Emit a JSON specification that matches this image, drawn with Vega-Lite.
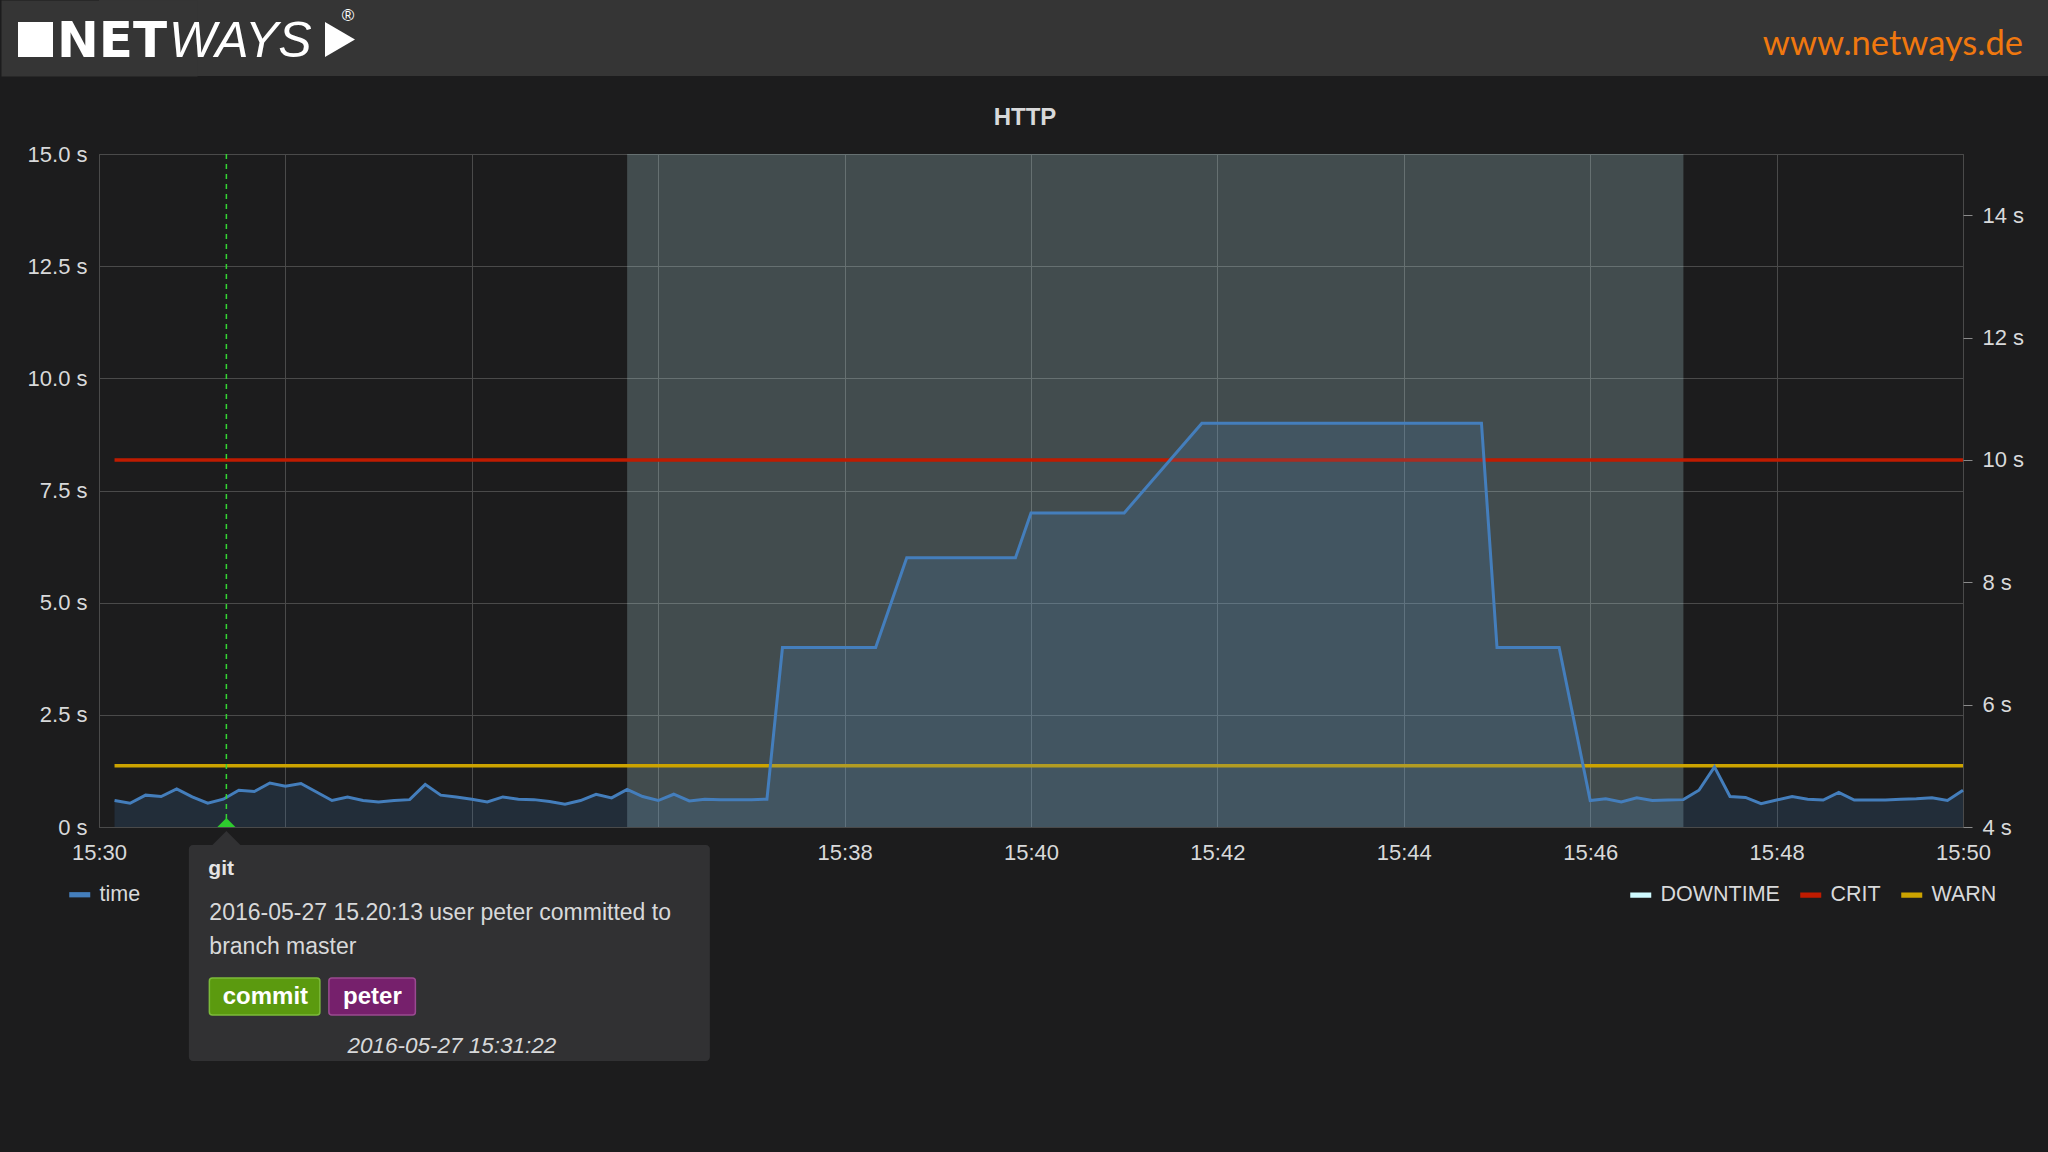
{
  "$schema": "https://vega.github.io/schema/vega-lite/v6.json",
  "background": "#1c1c1d",
  "padding": {"left": 0, "top": 0, "right": 0, "bottom": 91},
  "columns": 1,
  "align": "none",
  "spacing": 29,
  "config": {
    "font": "Liberation Sans",
    "view": {"stroke": "#4a4a4a"},
    "axis": {"labelFont": "Liberation Sans", "labelFontSize": 22, "labelColor": "#d8d9da", "domain": false, "ticks": false, "tickSize": 0, "gridColor": "#4a4a4a", "gridWidth": 1, "gridOpacity": 1, "labelOverlap": false}
  },
  "concat": [
    {
      "width": 1950,
      "height": 76,
      "view": {"fill": "#353535", "stroke": null},
      "data": {"values": [{"brand": "NET", "brand2": "WAYS", "url": "www.netways.de"}]},
      "encoding": {
        "x": {"datum": 0, "type": "quantitative", "scale": {"domain": [0, 1]}, "axis": null},
        "y": {"datum": 0.5, "type": "quantitative", "scale": {"domain": [0, 1]},
          "axis": {"orient": "left", "labels": false, "ticks": false, "grid": false, "domain": true, "domainWidth": 196, "domainColor": "#353535", "domainCap": "butt", "title": null}}
      },
      "layer": [
        {"mark": {"type": "point", "shape": "square", "filled": true, "color": "#ffffff", "opacity": 1, "size": 1225, "xOffset": -63.5, "yOffset": 1.5}},
        {"mark": {"type": "text", "font": "DejaVu Sans", "fontWeight": "bold", "fontSize": 50, "color": "#ffffff", "align": "left", "baseline": "alphabetic", "dx": -42, "dy": 19}, "encoding": {"text": {"field": "brand"}}},
        {"mark": {"type": "text", "font": "Liberation Sans", "fontStyle": "italic", "fontSize": 50, "color": "#ffffff", "align": "left", "baseline": "alphabetic", "dx": 70, "dy": 19}, "encoding": {"text": {"field": "brand2"}}},
        {"mark": {"type": "point", "shape": "M-0.857,-1L0.857,0L-0.857,1Z", "filled": true, "color": "#ffffff", "opacity": 1, "size": 1225, "xOffset": 241, "yOffset": 1.5}},
        {"mark": {"type": "text", "font": "Liberation Sans", "fontSize": 17, "color": "#ffffff", "align": "center", "baseline": "middle", "text": "®", "dx": 249, "dy": -22}},
        {"mark": {"type": "text", "font": "Lato", "fontSize": 34.5, "color": "#f0780f", "align": "right", "baseline": "alphabetic", "dx": -26, "dy": 17}, "encoding": {"x": {"datum": 1, "type": "quantitative"}, "text": {"field": "url"}}}
      ]
    },
    {
      "width": 1864,
      "height": 673,
      "title": {"text": "HTTP", "fontSize": 24, "fontWeight": "bold", "color": "#d8d9da", "anchor": "middle", "frame": "group", "dx": -6, "offset": 13},
      "resolve": {"scale": {"y": "independent", "color": "independent"}},
      "layer": [
        {
          "layer": [
            {
              "data": {"values": [{"start": "2016-05-27T15:35:40", "end": "2016-05-27T15:47:00", "s": "DOWNTIME"}]},
              "mark": {"type": "rect", "fillOpacity": 0.22},
              "encoding": {
                "x": {"field": "start", "type": "temporal", "title": null,
                  "scale": {"domain": [{"year": 2016, "month": 5, "date": 27, "hours": 15, "minutes": 30}, {"year": 2016, "month": 5, "date": 27, "hours": 15, "minutes": 50}]},
                  "axis": {"format": "%H:%M", "values": [
                    {"year": 2016, "month": 5, "date": 27, "hours": 15, "minutes": 30},
                    {"year": 2016, "month": 5, "date": 27, "hours": 15, "minutes": 32},
                    {"year": 2016, "month": 5, "date": 27, "hours": 15, "minutes": 34},
                    {"year": 2016, "month": 5, "date": 27, "hours": 15, "minutes": 36},
                    {"year": 2016, "month": 5, "date": 27, "hours": 15, "minutes": 38},
                    {"year": 2016, "month": 5, "date": 27, "hours": 15, "minutes": 40},
                    {"year": 2016, "month": 5, "date": 27, "hours": 15, "minutes": 42},
                    {"year": 2016, "month": 5, "date": 27, "hours": 15, "minutes": 44},
                    {"year": 2016, "month": 5, "date": 27, "hours": 15, "minutes": 46},
                    {"year": 2016, "month": 5, "date": 27, "hours": 15, "minutes": 48},
                    {"year": 2016, "month": 5, "date": 27, "hours": 15, "minutes": 50}
                  ], "grid": true, "labelPadding": 15, "labelFlush": false}},
                "x2": {"field": "end"},
                "color": {"field": "s", "type": "nominal", "scale": {"domain": ["DOWNTIME", "CRIT", "WARN"], "range": ["#CFFAFF", "#BF1B00", "#CCA300"]},
                  "legend": {"title": null, "orient": "none", "legendX": 1531, "legendY": 730, "direction": "horizontal", "symbolType": "M-1,-0.25H1V0.25H-1Z", "symbolSize": 441, "symbolStrokeWidth": 0, "symbolOpacity": 1, "labelFontSize": 21.5, "labelColor": "#d8d9da", "labelFont": "Liberation Sans", "labelOffset": 9, "columnPadding": 20, "padding": 0}}
              }
            },
            {
              "data": {"values": [
                {"t": "2016-05-27T15:30:10", "v": 10, "s": "CRIT"},
                {"t": "2016-05-27T15:50:00", "v": 10, "s": "CRIT"},
                {"t": "2016-05-27T15:30:10", "v": 5, "s": "WARN"},
                {"t": "2016-05-27T15:50:00", "v": 5, "s": "WARN"}
              ]},
              "mark": {"type": "line", "strokeWidth": 3.5},
              "encoding": {
                "x": {"field": "t", "type": "temporal", "title": null},
                "y": {"field": "v", "type": "quantitative", "title": null, "scale": {"domain": [4, 15], "nice": false, "zero": false},
                  "axis": {"orient": "right", "values": [4, 6, 8, 10, 12, 14], "labelExpr": "datum.value + ' s'", "ticks": true, "tickSize": 9, "tickColor": "#8a8a8a", "labelPadding": 10, "grid": false}},
                "color": {"field": "s", "type": "nominal"}
              }
            }
          ]
        },
        {
          "layer": [
            {
              "data": {"name": "series"},
              "mark": {"type": "area", "fillOpacity": 0.18, "interpolate": "linear"},
              "encoding": {
                "x": {"field": "t", "type": "temporal", "title": null},
                "y": {"field": "v", "type": "quantitative", "title": null, "scale": {"domain": [0, 15], "nice": false},
                  "axis": {"orient": "left", "values": [0, 2.5, 5, 7.5, 10, 12.5, 15], "labelExpr": "datum.value == 0 ? '0 s' : format(datum.value, '.1f') + ' s'", "grid": true, "labelPadding": 12, "minExtent": 98, "maxExtent": 98}},
                "color": {"field": "s", "type": "nominal", "scale": {"domain": ["time"], "range": ["#447EBC"]},
                  "legend": {"title": null, "orient": "none", "legendX": -30, "legendY": 730, "direction": "horizontal", "symbolType": "M-1,-0.25H1V0.25H-1Z", "symbolSize": 441, "symbolStrokeWidth": 0, "symbolOpacity": 1, "labelFontSize": 21.5, "labelColor": "#d8d9da", "labelFont": "Liberation Sans", "labelOffset": 9, "padding": 0}}
              }
            },
            {
              "data": {"name": "series"},
              "mark": {"type": "line", "strokeWidth": 3, "interpolate": "linear"},
              "encoding": {
                "x": {"field": "t", "type": "temporal"},
                "y": {"field": "v", "type": "quantitative"},
                "color": {"field": "s", "type": "nominal"}
              }
            },
            {
              "data": {"name": "annotations"},
              "mark": {"type": "rule", "color": "#33d633", "strokeWidth": 1.5, "strokeDash": [5, 5]},
              "encoding": {"x": {"field": "t", "type": "temporal"}}
            },
            {
              "data": {"name": "annotations"},
              "mark": {"type": "point", "shape": "M-1,0.5L0,-0.5L1,0.5Z", "filled": true, "color": "#2ecc2e", "opacity": 1, "size": 324, "yOffset": -4.5},
              "encoding": {"x": {"field": "t", "type": "temporal"}, "y": {"datum": 0}}
            },
            {
              "data": {"name": "annotations"},
              "mark": {"type": "point", "shape": "M-1,0.5L0,-0.5L1,0.5Z", "filled": true, "color": "#313133", "opacity": 1, "size": 784, "yOffset": 11, "clip": false},
              "encoding": {"x": {"field": "t", "type": "temporal"}, "y": {"datum": 0}}
            },
            {
              "data": {"name": "annotations"},
              "mark": {"type": "rect", "color": "#313133", "opacity": 1, "cornerRadius": 4, "xOffset": -37.5, "x2Offset": 483.5, "yOffset": 18, "y2Offset": 234, "clip": false},
              "encoding": {"x": {"field": "t", "type": "temporal"}, "x2": {"field": "t"}, "y": {"datum": 0}, "y2": {"datum": 0}}
            },
            {
              "data": {"name": "annotations"},
              "mark": {"type": "text", "font": "Liberation Sans", "fontWeight": "bold", "fontSize": 21, "color": "#e4e4e4", "align": "left", "baseline": "alphabetic", "dx": -18, "dy": 48, "clip": false},
              "encoding": {"x": {"field": "t", "type": "temporal"}, "y": {"datum": 0}, "text": {"field": "source"}}
            },
            {
              "data": {"name": "annotations"},
              "mark": {"type": "text", "font": "Liberation Sans", "fontSize": 23, "color": "#d8d9da", "align": "left", "baseline": "alphabetic", "dx": -17, "dy": 93, "lineBreak": "\n", "lineHeight": 33.5, "clip": false},
              "encoding": {"x": {"field": "t", "type": "temporal"}, "y": {"datum": 0}, "text": {"field": "text"}}
            },
            {
              "data": {"name": "annotations"},
              "mark": {"type": "rect", "color": "#5b9a0f", "stroke": "#7cbb3a", "strokeWidth": 1.5, "opacity": 1, "cornerRadius": 3, "xOffset": -17, "x2Offset": 93.5, "yOffset": 151, "y2Offset": 188, "clip": false},
              "encoding": {"x": {"field": "t", "type": "temporal"}, "x2": {"field": "t"}, "y": {"datum": 0}, "y2": {"datum": 0}}
            },
            {
              "data": {"name": "annotations"},
              "mark": {"type": "rect", "color": "#76206c", "stroke": "#9a4a90", "strokeWidth": 1.5, "opacity": 1, "cornerRadius": 3, "xOffset": 102.5, "x2Offset": 189, "yOffset": 151, "y2Offset": 188, "clip": false},
              "encoding": {"x": {"field": "t", "type": "temporal"}, "x2": {"field": "t"}, "y": {"datum": 0}, "y2": {"datum": 0}}
            },
            {
              "data": {"name": "annotations"},
              "mark": {"type": "text", "font": "Liberation Sans", "fontWeight": "bold", "fontSize": 24, "color": "#ffffff", "align": "center", "baseline": "alphabetic", "dx": 39, "dy": 177, "clip": false},
              "encoding": {"x": {"field": "t", "type": "temporal"}, "y": {"datum": 0}, "text": {"field": "tag1"}}
            },
            {
              "data": {"name": "annotations"},
              "mark": {"type": "text", "font": "Liberation Sans", "fontWeight": "bold", "fontSize": 24, "color": "#ffffff", "align": "center", "baseline": "alphabetic", "dx": 146, "dy": 177, "clip": false},
              "encoding": {"x": {"field": "t", "type": "temporal"}, "y": {"datum": 0}, "text": {"field": "tag2"}}
            },
            {
              "data": {"name": "annotations"},
              "mark": {"type": "text", "font": "Liberation Sans", "fontStyle": "italic", "fontSize": 22.5, "color": "#d8d9da", "align": "center", "baseline": "alphabetic", "dx": 225.5, "dy": 226, "clip": false},
              "encoding": {"x": {"field": "t", "type": "temporal"}, "y": {"datum": 0}, "text": {"field": "t", "type": "temporal", "format": "%Y-%m-%d %H:%M:%S"}}
            }
          ]
        }
      ]
    }
  ],
  "datasets": {
    "annotations": [
      {"t": "2016-05-27T15:31:22", "source": "git", "text": "2016-05-27 15.20:13 user peter committed to\nbranch master", "tag1": "commit", "tag2": "peter"}
    ],
    "series": [
      {"t": "2016-05-27T15:30:10", "v": 0.59, "s": "time"},
      {"t": "2016-05-27T15:30:20", "v": 0.53, "s": "time"},
      {"t": "2016-05-27T15:30:30", "v": 0.71, "s": "time"},
      {"t": "2016-05-27T15:30:40", "v": 0.68, "s": "time"},
      {"t": "2016-05-27T15:30:50", "v": 0.85, "s": "time"},
      {"t": "2016-05-27T15:31:00", "v": 0.67, "s": "time"},
      {"t": "2016-05-27T15:31:10", "v": 0.53, "s": "time"},
      {"t": "2016-05-27T15:31:20", "v": 0.62, "s": "time"},
      {"t": "2016-05-27T15:31:30", "v": 0.82, "s": "time"},
      {"t": "2016-05-27T15:31:40", "v": 0.79, "s": "time"},
      {"t": "2016-05-27T15:31:50", "v": 0.98, "s": "time"},
      {"t": "2016-05-27T15:32:00", "v": 0.91, "s": "time"},
      {"t": "2016-05-27T15:32:10", "v": 0.97, "s": "time"},
      {"t": "2016-05-27T15:32:20", "v": 0.78, "s": "time"},
      {"t": "2016-05-27T15:32:30", "v": 0.59, "s": "time"},
      {"t": "2016-05-27T15:32:40", "v": 0.67, "s": "time"},
      {"t": "2016-05-27T15:32:50", "v": 0.59, "s": "time"},
      {"t": "2016-05-27T15:33:00", "v": 0.56, "s": "time"},
      {"t": "2016-05-27T15:33:10", "v": 0.59, "s": "time"},
      {"t": "2016-05-27T15:33:20", "v": 0.61, "s": "time"},
      {"t": "2016-05-27T15:33:30", "v": 0.95, "s": "time"},
      {"t": "2016-05-27T15:33:40", "v": 0.71, "s": "time"},
      {"t": "2016-05-27T15:33:50", "v": 0.67, "s": "time"},
      {"t": "2016-05-27T15:34:00", "v": 0.62, "s": "time"},
      {"t": "2016-05-27T15:34:10", "v": 0.56, "s": "time"},
      {"t": "2016-05-27T15:34:20", "v": 0.67, "s": "time"},
      {"t": "2016-05-27T15:34:30", "v": 0.62, "s": "time"},
      {"t": "2016-05-27T15:34:40", "v": 0.61, "s": "time"},
      {"t": "2016-05-27T15:34:50", "v": 0.57, "s": "time"},
      {"t": "2016-05-27T15:35:00", "v": 0.51, "s": "time"},
      {"t": "2016-05-27T15:35:10", "v": 0.59, "s": "time"},
      {"t": "2016-05-27T15:35:20", "v": 0.73, "s": "time"},
      {"t": "2016-05-27T15:35:30", "v": 0.65, "s": "time"},
      {"t": "2016-05-27T15:35:40", "v": 0.84, "s": "time"},
      {"t": "2016-05-27T15:35:50", "v": 0.68, "s": "time"},
      {"t": "2016-05-27T15:36:00", "v": 0.59, "s": "time"},
      {"t": "2016-05-27T15:36:10", "v": 0.73, "s": "time"},
      {"t": "2016-05-27T15:36:20", "v": 0.58, "s": "time"},
      {"t": "2016-05-27T15:36:30", "v": 0.62, "s": "time"},
      {"t": "2016-05-27T15:36:40", "v": 0.61, "s": "time"},
      {"t": "2016-05-27T15:36:50", "v": 0.61, "s": "time"},
      {"t": "2016-05-27T15:37:00", "v": 0.61, "s": "time"},
      {"t": "2016-05-27T15:37:10", "v": 0.62, "s": "time"},
      {"t": "2016-05-27T15:37:20", "v": 4.0, "s": "time"},
      {"t": "2016-05-27T15:37:50", "v": 4.0, "s": "time"},
      {"t": "2016-05-27T15:38:20", "v": 4.0, "s": "time"},
      {"t": "2016-05-27T15:38:40", "v": 6.0, "s": "time"},
      {"t": "2016-05-27T15:39:20", "v": 6.0, "s": "time"},
      {"t": "2016-05-27T15:39:50", "v": 6.0, "s": "time"},
      {"t": "2016-05-27T15:40:00", "v": 7.0, "s": "time"},
      {"t": "2016-05-27T15:40:30", "v": 7.0, "s": "time"},
      {"t": "2016-05-27T15:41:00", "v": 7.0, "s": "time"},
      {"t": "2016-05-27T15:41:50", "v": 9.0, "s": "time"},
      {"t": "2016-05-27T15:43:00", "v": 9.0, "s": "time"},
      {"t": "2016-05-27T15:44:00", "v": 9.0, "s": "time"},
      {"t": "2016-05-27T15:44:50", "v": 9.0, "s": "time"},
      {"t": "2016-05-27T15:45:00", "v": 4.0, "s": "time"},
      {"t": "2016-05-27T15:45:40", "v": 4.0, "s": "time"},
      {"t": "2016-05-27T15:46:00", "v": 0.59, "s": "time"},
      {"t": "2016-05-27T15:46:10", "v": 0.63, "s": "time"},
      {"t": "2016-05-27T15:46:20", "v": 0.56, "s": "time"},
      {"t": "2016-05-27T15:46:30", "v": 0.65, "s": "time"},
      {"t": "2016-05-27T15:46:40", "v": 0.59, "s": "time"},
      {"t": "2016-05-27T15:46:50", "v": 0.60, "s": "time"},
      {"t": "2016-05-27T15:47:00", "v": 0.61, "s": "time"},
      {"t": "2016-05-27T15:47:10", "v": 0.82, "s": "time"},
      {"t": "2016-05-27T15:47:20", "v": 1.34, "s": "time"},
      {"t": "2016-05-27T15:47:30", "v": 0.68, "s": "time"},
      {"t": "2016-05-27T15:47:40", "v": 0.66, "s": "time"},
      {"t": "2016-05-27T15:47:50", "v": 0.52, "s": "time"},
      {"t": "2016-05-27T15:48:00", "v": 0.60, "s": "time"},
      {"t": "2016-05-27T15:48:10", "v": 0.68, "s": "time"},
      {"t": "2016-05-27T15:48:20", "v": 0.62, "s": "time"},
      {"t": "2016-05-27T15:48:30", "v": 0.60, "s": "time"},
      {"t": "2016-05-27T15:48:40", "v": 0.77, "s": "time"},
      {"t": "2016-05-27T15:48:50", "v": 0.60, "s": "time"},
      {"t": "2016-05-27T15:49:00", "v": 0.60, "s": "time"},
      {"t": "2016-05-27T15:49:10", "v": 0.60, "s": "time"},
      {"t": "2016-05-27T15:49:20", "v": 0.62, "s": "time"},
      {"t": "2016-05-27T15:49:30", "v": 0.63, "s": "time"},
      {"t": "2016-05-27T15:49:40", "v": 0.65, "s": "time"},
      {"t": "2016-05-27T15:49:50", "v": 0.59, "s": "time"},
      {"t": "2016-05-27T15:50:00", "v": 0.82, "s": "time"}
    ]
  }
}
